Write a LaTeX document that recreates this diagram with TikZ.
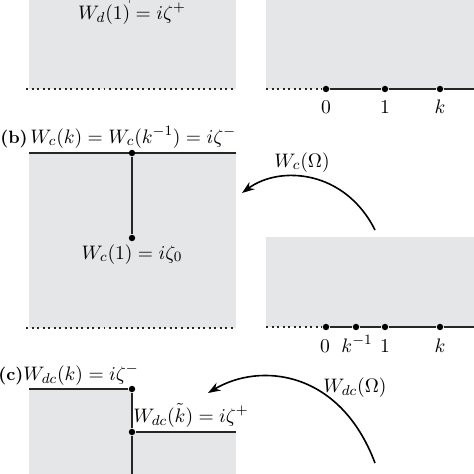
\documentclass[tikz,border=0pt]{standalone}
\usetikzlibrary{arrows.meta}
\definecolor{panelgray}{RGB}{229,230,232}
\begin{document}
\begin{tikzpicture}[x=0.56pt,y=-0.56pt,
  panel/.style={fill=panelgray},
  axisline/.style={line width=1.1pt,black!85},
  dotline/.style={line width=1.1pt,black!85,dash pattern=on 1.1pt off 2pt},
  pt/.style={circle,fill=black,inner sep=0pt,minimum size=3.6pt},
  lbl/.style={inner sep=0pt,font=\fontsize{11.2}{13}\selectfont},
  tag/.style={inner sep=0pt,font=\fontsize{10}{12}\selectfont\bfseries},
  maparrow/.style={line width=0.9pt,-{Stealth[length=7pt,width=5pt]}}]
\useasboundingbox (0,0) rectangle (474,474);

% ---------- panel (a), cropped top ----------
\fill[panel] (29,0) rectangle (236,89);
\coordinate (aL) at (26,89); \coordinate (aR) at (236,89);
\draw[dotline] (aL) -- (aR);
\coordinate (atop) at (129,0); \coordinate (atick) at (129,3);
\draw[thin,black!60] (atop) -- (atick);
\node[lbl,anchor=base] (Wd1) at (132,19) {$W_d(1) = i\zeta^{+}$};

\fill[panel] (266,0) rectangle (474,89);
\coordinate (a0s) at (266,89); \coordinate (aEnd) at (474,89);
\node[pt] (a0) at (326,89) {};
\node[pt] (a1) at (385,89) {};
\node[pt] (ak) at (440,89) {};
\draw[dotline] (a0s) -- (a0);
\draw[axisline] (a0) -- (a1) -- (ak) -- (aEnd);
\node[lbl,anchor=base] (a0l) at (326,113) {$0$};
\node[lbl,anchor=base] (a1l) at (385,113) {$1$};
\node[lbl,anchor=base] (akl) at (440,113) {$k$};

% ---------- panel (b) ----------
\fill[panel] (29,153) rectangle (236,328);
\coordinate (bTL) at (29,153); \coordinate (bTR) at (236,153);
\draw[axisline] (bTL) -- (bTR);
\coordinate (bBL) at (26,328); \coordinate (bBR) at (236,328);
\draw[dotline] (bBL) -- (bBR);
\node[pt] (bk) at (132,153) {};
\node[pt] (b1) at (132,238) {};
\draw[axisline] (bk) -- (b1);
\node[tag,anchor=base west] (blab) at (0,143) {(b)};
\node[lbl,anchor=base west] (bform) at (30,143) {$W_c(k) = W_c(k^{-1}) = i\zeta^{-}$};
\node[lbl,anchor=base] (b1lab) at (132,259) {$W_c(1) = i\zeta_0$};

\fill[panel] (266,237) rectangle (474,327);
\coordinate (b0s) at (266,327); \coordinate (bEnd) at (474,327);
\node[pt] (b0) at (326,327) {};
\node[pt] (bki) at (356,327) {};
\node[pt] (b1r) at (385,327) {};
\node[pt] (bkr) at (440,327) {};
\draw[dotline] (b0s) -- (b0);
\draw[axisline] (b0) -- (bki) -- (b1r) -- (bkr) -- (bEnd);
\node[lbl,anchor=base] (b0l) at (325,352) {$0$};
\node[lbl,anchor=base] (bkil) at (357,352) {$k^{-1}$};
\node[lbl,anchor=base] (b1l) at (385,352) {$1$};
\node[lbl,anchor=base] (bkl) at (440,352) {$k$};

\coordinate (wcS) at (375,230); \coordinate (wcE) at (242,193);
\draw[maparrow] (wcS) .. controls (345,170) and (280,165) .. (wcE);
\node[lbl,anchor=base] (wcl) at (302,167) {$W_c(\Omega)$};

% ---------- panel (c) ----------
\fill[panel] (29,389) rectangle (132,474);
\fill[panel] (132,432) rectangle (236,474);
\coordinate (cTL) at (29,389);
\coordinate (cBot) at (132,474);
\coordinate (cR) at (236,432);
\node[pt] (ck) at (132,389) {};
\node[pt] (ckt) at (132,432) {};
\draw[axisline] (cTL) -- (ck) -- (ckt) -- (cBot);
\draw[axisline] (ckt) -- (cR);
\node[tag,anchor=base west] (clab) at (-2,380) {(c)};
\node[lbl,anchor=base west] (cform) at (23,380) {$W_{dc}(k) = i\zeta^{-}$};
\node[lbl,anchor=base west] (cform2) at (133,422) {$W_{dc}(\tilde{k}) = i\zeta^{+}$};

\coordinate (wdS) at (375,463); \coordinate (wdE) at (208,393);
\draw[maparrow] (wdS) .. controls (340,370) and (260,362) .. (wdE);
\node[lbl,anchor=base] (wdl) at (355,392) {$W_{dc}(\Omega)$};
\end{tikzpicture}
\end{document}
